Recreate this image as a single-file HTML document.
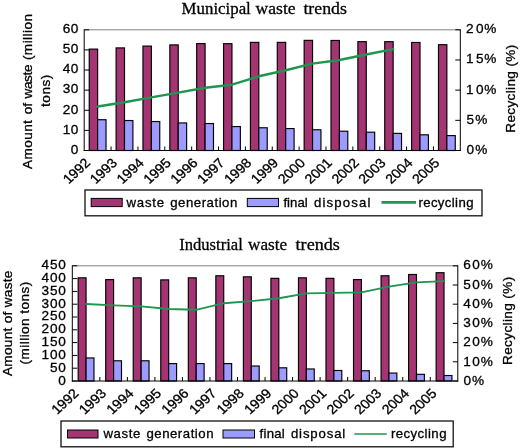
<!DOCTYPE html>
<html><head><meta charset="utf-8"><title>Waste trends</title>
<style>html,body{margin:0;padding:0;background:#fff;}svg{display:block}</style></head>
<body>
<svg width="520" height="448" viewBox="0 0 520 448">
<rect width="520" height="448" fill="#ffffff"/>
<line x1="84.2" y1="29.8" x2="460.3" y2="29.8" stroke="#808080" stroke-width="1"/>
<rect x="89.23" y="49.11" width="8.40" height="101.39" fill="#a53472" stroke="#000" stroke-width="1.15"/>
<rect x="97.63" y="119.72" width="8.40" height="30.78" fill="#9c9cff" stroke="#000" stroke-width="1.15"/>
<rect x="116.10" y="47.91" width="8.40" height="102.59" fill="#a53472" stroke="#000" stroke-width="1.15"/>
<rect x="124.50" y="120.53" width="8.40" height="29.97" fill="#9c9cff" stroke="#000" stroke-width="1.15"/>
<rect x="142.96" y="46.09" width="8.40" height="104.41" fill="#a53472" stroke="#000" stroke-width="1.15"/>
<rect x="151.36" y="121.53" width="8.40" height="28.97" fill="#9c9cff" stroke="#000" stroke-width="1.15"/>
<rect x="169.83" y="44.89" width="8.40" height="105.61" fill="#a53472" stroke="#000" stroke-width="1.15"/>
<rect x="178.23" y="122.94" width="8.40" height="27.56" fill="#9c9cff" stroke="#000" stroke-width="1.15"/>
<rect x="196.69" y="43.58" width="8.40" height="106.92" fill="#a53472" stroke="#000" stroke-width="1.15"/>
<rect x="205.09" y="123.54" width="8.40" height="26.96" fill="#9c9cff" stroke="#000" stroke-width="1.15"/>
<rect x="223.56" y="43.68" width="8.40" height="106.82" fill="#a53472" stroke="#000" stroke-width="1.15"/>
<rect x="231.95" y="126.56" width="8.40" height="23.94" fill="#9c9cff" stroke="#000" stroke-width="1.15"/>
<rect x="250.42" y="42.37" width="8.40" height="108.13" fill="#a53472" stroke="#000" stroke-width="1.15"/>
<rect x="258.82" y="127.77" width="8.40" height="22.73" fill="#9c9cff" stroke="#000" stroke-width="1.15"/>
<rect x="277.28" y="42.37" width="8.40" height="108.13" fill="#a53472" stroke="#000" stroke-width="1.15"/>
<rect x="285.68" y="128.57" width="8.40" height="21.93" fill="#9c9cff" stroke="#000" stroke-width="1.15"/>
<rect x="304.15" y="40.36" width="8.40" height="110.14" fill="#a53472" stroke="#000" stroke-width="1.15"/>
<rect x="312.55" y="129.78" width="8.40" height="20.72" fill="#9c9cff" stroke="#000" stroke-width="1.15"/>
<rect x="331.01" y="40.46" width="8.40" height="110.04" fill="#a53472" stroke="#000" stroke-width="1.15"/>
<rect x="339.41" y="131.19" width="8.40" height="19.31" fill="#9c9cff" stroke="#000" stroke-width="1.15"/>
<rect x="357.88" y="41.67" width="8.40" height="108.83" fill="#a53472" stroke="#000" stroke-width="1.15"/>
<rect x="366.28" y="132.19" width="8.40" height="18.31" fill="#9c9cff" stroke="#000" stroke-width="1.15"/>
<rect x="384.74" y="41.67" width="8.40" height="108.83" fill="#a53472" stroke="#000" stroke-width="1.15"/>
<rect x="393.14" y="133.40" width="8.40" height="17.10" fill="#9c9cff" stroke="#000" stroke-width="1.15"/>
<rect x="411.61" y="42.47" width="8.40" height="108.03" fill="#a53472" stroke="#000" stroke-width="1.15"/>
<rect x="420.00" y="134.81" width="8.40" height="15.69" fill="#9c9cff" stroke="#000" stroke-width="1.15"/>
<rect x="438.47" y="44.69" width="8.40" height="105.81" fill="#a53472" stroke="#000" stroke-width="1.15"/>
<rect x="446.87" y="135.61" width="8.40" height="14.89" fill="#9c9cff" stroke="#000" stroke-width="1.15"/>
<line x1="84.2" y1="29.3" x2="84.2" y2="151.0" stroke="#000" stroke-width="1"/>
<line x1="460.3" y1="29.3" x2="460.3" y2="151.0" stroke="#000" stroke-width="1"/>
<line x1="83.7" y1="150.5" x2="460.8" y2="150.5" stroke="#000" stroke-width="1"/>
<line x1="84.2" y1="150.50" x2="89.2" y2="150.50" stroke="#000" stroke-width="1"/>
<line x1="84.2" y1="130.38" x2="89.2" y2="130.38" stroke="#000" stroke-width="1"/>
<line x1="84.2" y1="110.27" x2="89.2" y2="110.27" stroke="#000" stroke-width="1"/>
<line x1="84.2" y1="90.15" x2="89.2" y2="90.15" stroke="#000" stroke-width="1"/>
<line x1="84.2" y1="70.03" x2="89.2" y2="70.03" stroke="#000" stroke-width="1"/>
<line x1="84.2" y1="49.92" x2="89.2" y2="49.92" stroke="#000" stroke-width="1"/>
<line x1="84.2" y1="29.80" x2="89.2" y2="29.80" stroke="#000" stroke-width="1"/>
<line x1="455.3" y1="150.50" x2="460.3" y2="150.50" stroke="#000" stroke-width="1"/>
<line x1="455.3" y1="120.33" x2="460.3" y2="120.33" stroke="#000" stroke-width="1"/>
<line x1="455.3" y1="90.15" x2="460.3" y2="90.15" stroke="#000" stroke-width="1"/>
<line x1="455.3" y1="59.97" x2="460.3" y2="59.97" stroke="#000" stroke-width="1"/>
<line x1="455.3" y1="29.80" x2="460.3" y2="29.80" stroke="#000" stroke-width="1"/>
<line x1="111.06" y1="146.5" x2="111.06" y2="150.5" stroke="#000" stroke-width="1"/>
<line x1="137.93" y1="146.5" x2="137.93" y2="150.5" stroke="#000" stroke-width="1"/>
<line x1="164.79" y1="146.5" x2="164.79" y2="150.5" stroke="#000" stroke-width="1"/>
<line x1="191.66" y1="146.5" x2="191.66" y2="150.5" stroke="#000" stroke-width="1"/>
<line x1="218.52" y1="146.5" x2="218.52" y2="150.5" stroke="#000" stroke-width="1"/>
<line x1="245.39" y1="146.5" x2="245.39" y2="150.5" stroke="#000" stroke-width="1"/>
<line x1="272.25" y1="146.5" x2="272.25" y2="150.5" stroke="#000" stroke-width="1"/>
<line x1="299.11" y1="146.5" x2="299.11" y2="150.5" stroke="#000" stroke-width="1"/>
<line x1="325.98" y1="146.5" x2="325.98" y2="150.5" stroke="#000" stroke-width="1"/>
<line x1="352.84" y1="146.5" x2="352.84" y2="150.5" stroke="#000" stroke-width="1"/>
<line x1="379.71" y1="146.5" x2="379.71" y2="150.5" stroke="#000" stroke-width="1"/>
<line x1="406.57" y1="146.5" x2="406.57" y2="150.5" stroke="#000" stroke-width="1"/>
<line x1="433.44" y1="146.5" x2="433.44" y2="150.5" stroke="#000" stroke-width="1"/>
<polyline points="97.63,106.44 124.50,102.22 151.36,97.39 178.23,92.56 205.09,87.74 231.95,84.72 258.82,76.27 285.68,70.23 312.55,63.60 339.41,59.97 366.28,54.54 393.14,49.11" fill="none" stroke="#1e9650" stroke-width="2.4" stroke-linejoin="round" stroke-linecap="round"/>
<text x="70.8" y="153.60" font-size="13.6" font-family="Liberation Sans, Arial, sans-serif" stroke="#000" stroke-width="0.3">0</text>
<text x="62.7 70.8" y="133.56" font-size="13.6" font-family="Liberation Sans, Arial, sans-serif" stroke="#000" stroke-width="0.3">10</text>
<text x="62.7 70.8" y="113.52" font-size="13.6" font-family="Liberation Sans, Arial, sans-serif" stroke="#000" stroke-width="0.3">20</text>
<text x="62.7 70.8" y="93.47" font-size="13.6" font-family="Liberation Sans, Arial, sans-serif" stroke="#000" stroke-width="0.3">30</text>
<text x="62.7 70.8" y="73.43" font-size="13.6" font-family="Liberation Sans, Arial, sans-serif" stroke="#000" stroke-width="0.3">40</text>
<text x="62.7 70.8" y="53.39" font-size="13.6" font-family="Liberation Sans, Arial, sans-serif" stroke="#000" stroke-width="0.3">50</text>
<text x="62.7 70.8" y="33.35" font-size="13.6" font-family="Liberation Sans, Arial, sans-serif" stroke="#000" stroke-width="0.3">60</text>
<text x="466.4 475.2" y="153.85" font-size="13.6" font-family="Liberation Sans, Arial, sans-serif" stroke="#000" stroke-width="0.3">0%</text>
<text x="466.4 475.2" y="123.72" font-size="13.6" font-family="Liberation Sans, Arial, sans-serif" stroke="#000" stroke-width="0.3">5%</text>
<text x="466.0 476.0 484.2" y="93.60" font-size="13.6" font-family="Liberation Sans, Arial, sans-serif" stroke="#000" stroke-width="0.3">10%</text>
<text x="466.0 476.0 484.2" y="63.48" font-size="13.6" font-family="Liberation Sans, Arial, sans-serif" stroke="#000" stroke-width="0.3">15%</text>
<text x="466.0 476.0 484.2" y="33.35" font-size="13.6" font-family="Liberation Sans, Arial, sans-serif" stroke="#000" stroke-width="0.3">20%</text>
<text transform="translate(91.13,163.70) scale(1.07,1) rotate(-45)" text-anchor="end" font-size="13.3" font-family="Liberation Sans, Arial, sans-serif" stroke="#000" stroke-width="0.3">1992</text>
<text transform="translate(118.00,163.70) scale(1.07,1) rotate(-45)" text-anchor="end" font-size="13.3" font-family="Liberation Sans, Arial, sans-serif" stroke="#000" stroke-width="0.3">1993</text>
<text transform="translate(144.86,163.70) scale(1.07,1) rotate(-45)" text-anchor="end" font-size="13.3" font-family="Liberation Sans, Arial, sans-serif" stroke="#000" stroke-width="0.3">1994</text>
<text transform="translate(171.73,163.70) scale(1.07,1) rotate(-45)" text-anchor="end" font-size="13.3" font-family="Liberation Sans, Arial, sans-serif" stroke="#000" stroke-width="0.3">1995</text>
<text transform="translate(198.59,163.70) scale(1.07,1) rotate(-45)" text-anchor="end" font-size="13.3" font-family="Liberation Sans, Arial, sans-serif" stroke="#000" stroke-width="0.3">1996</text>
<text transform="translate(225.45,163.70) scale(1.07,1) rotate(-45)" text-anchor="end" font-size="13.3" font-family="Liberation Sans, Arial, sans-serif" stroke="#000" stroke-width="0.3">1997</text>
<text transform="translate(252.32,163.70) scale(1.07,1) rotate(-45)" text-anchor="end" font-size="13.3" font-family="Liberation Sans, Arial, sans-serif" stroke="#000" stroke-width="0.3">1998</text>
<text transform="translate(279.18,163.70) scale(1.07,1) rotate(-45)" text-anchor="end" font-size="13.3" font-family="Liberation Sans, Arial, sans-serif" stroke="#000" stroke-width="0.3">1999</text>
<text transform="translate(306.05,163.70) scale(1.07,1) rotate(-45)" text-anchor="end" font-size="13.3" font-family="Liberation Sans, Arial, sans-serif" stroke="#000" stroke-width="0.3">2000</text>
<text transform="translate(332.91,163.70) scale(1.07,1) rotate(-45)" text-anchor="end" font-size="13.3" font-family="Liberation Sans, Arial, sans-serif" stroke="#000" stroke-width="0.3">2001</text>
<text transform="translate(359.78,163.70) scale(1.07,1) rotate(-45)" text-anchor="end" font-size="13.3" font-family="Liberation Sans, Arial, sans-serif" stroke="#000" stroke-width="0.3">2002</text>
<text transform="translate(386.64,163.70) scale(1.07,1) rotate(-45)" text-anchor="end" font-size="13.3" font-family="Liberation Sans, Arial, sans-serif" stroke="#000" stroke-width="0.3">2003</text>
<text transform="translate(413.50,163.70) scale(1.07,1) rotate(-45)" text-anchor="end" font-size="13.3" font-family="Liberation Sans, Arial, sans-serif" stroke="#000" stroke-width="0.3">2004</text>
<text transform="translate(440.37,163.70) scale(1.07,1) rotate(-45)" text-anchor="end" font-size="13.3" font-family="Liberation Sans, Arial, sans-serif" stroke="#000" stroke-width="0.3">2005</text>
<text x="181.6" y="13.8" font-size="17.5" textLength="69.20" lengthAdjust="spacingAndGlyphs" font-family="Liberation Serif, Times New Roman, serif" stroke="#000" stroke-width="0.3">Municipal</text>
<text x="255.6" y="13.8" font-size="17.5" textLength="40.00" lengthAdjust="spacingAndGlyphs" font-family="Liberation Serif, Times New Roman, serif" stroke="#000" stroke-width="0.3">waste</text>
<text x="303.4" y="13.8" font-size="17.5" textLength="43.50" lengthAdjust="spacingAndGlyphs" font-family="Liberation Serif, Times New Roman, serif" stroke="#000" stroke-width="0.3">trends</text>
<text transform="translate(32.4,168.9) rotate(-90)" font-size="13.6" textLength="48.8" lengthAdjust="spacing" font-family="Liberation Sans, Arial, sans-serif" stroke="#000" stroke-width="0.3">Amount</text>
<text transform="translate(32.4,114.2) rotate(-90)" font-size="13.6" textLength="11.3" lengthAdjust="spacing" font-family="Liberation Sans, Arial, sans-serif" stroke="#000" stroke-width="0.3">of</text>
<text transform="translate(32.4,98.6) rotate(-90)" font-size="13.6" textLength="34.2" lengthAdjust="spacing" font-family="Liberation Sans, Arial, sans-serif" stroke="#000" stroke-width="0.3">waste</text>
<text transform="translate(32.4,60.1) rotate(-90)" font-size="13.6" textLength="46.2" lengthAdjust="spacing" font-family="Liberation Sans, Arial, sans-serif" stroke="#000" stroke-width="0.3">(million</text>
<text transform="translate(49.9,106.9) rotate(-90)" font-size="13.6" textLength="32.2" lengthAdjust="spacing" font-family="Liberation Sans, Arial, sans-serif" stroke="#000" stroke-width="0.3">tons)</text>
<text transform="translate(514.8,88.75) rotate(-90)" text-anchor="middle" font-size="13.6" textLength="88" font-family="Liberation Sans, Arial, sans-serif" stroke="#000" stroke-width="0.3">Recycling (%)</text>
<rect x="85" y="190" width="397" height="25.8" fill="#fff" stroke="#111" stroke-width="1.3"/>
<rect x="91.2" y="198.4" width="31" height="8.2" fill="#a53472" stroke="#000" stroke-width="1"/>
<text x="126.4" y="206.6" font-size="13.2" textLength="37.80" lengthAdjust="spacing" font-family="Liberation Sans, Arial, sans-serif" stroke="#000" stroke-width="0.3">waste</text>
<text x="170.2" y="206.6" font-size="13.2" textLength="67.10" lengthAdjust="spacing" font-family="Liberation Sans, Arial, sans-serif" stroke="#000" stroke-width="0.3">generation</text>
<rect x="247.3" y="198.4" width="31.2" height="8.2" fill="#9c9cff" stroke="#000" stroke-width="1"/>
<text x="283.4" y="206.6" font-size="13.2" textLength="24.40" lengthAdjust="spacing" font-family="Liberation Sans, Arial, sans-serif" stroke="#000" stroke-width="0.3">final</text>
<text x="313.9" y="206.6" font-size="13.2" textLength="56.60" lengthAdjust="spacing" font-family="Liberation Sans, Arial, sans-serif" stroke="#000" stroke-width="0.3">disposal</text>
<line x1="381.5" y1="202.3" x2="416" y2="202.3" stroke="#1e9650" stroke-width="2.8"/>
<text x="418.4" y="206.6" font-size="13.2" textLength="55.10" lengthAdjust="spacing" font-family="Liberation Sans, Arial, sans-serif" stroke="#000" stroke-width="0.3">recycling</text>
<line x1="72.3" y1="265.8" x2="457.8" y2="265.8" stroke="#808080" stroke-width="1"/>
<rect x="78.17" y="277.83" width="7.90" height="103.17" fill="#a53472" stroke="#000" stroke-width="1.15"/>
<rect x="86.07" y="357.96" width="7.90" height="23.04" fill="#9c9cff" stroke="#000" stroke-width="1.15"/>
<rect x="105.70" y="279.62" width="7.90" height="101.38" fill="#a53472" stroke="#000" stroke-width="1.15"/>
<rect x="113.60" y="360.78" width="7.90" height="20.22" fill="#9c9cff" stroke="#000" stroke-width="1.15"/>
<rect x="133.24" y="277.83" width="7.90" height="103.17" fill="#a53472" stroke="#000" stroke-width="1.15"/>
<rect x="141.14" y="360.78" width="7.90" height="20.22" fill="#9c9cff" stroke="#000" stroke-width="1.15"/>
<rect x="160.77" y="279.88" width="7.90" height="101.12" fill="#a53472" stroke="#000" stroke-width="1.15"/>
<rect x="168.67" y="363.59" width="7.90" height="17.41" fill="#9c9cff" stroke="#000" stroke-width="1.15"/>
<rect x="188.31" y="277.83" width="7.90" height="103.17" fill="#a53472" stroke="#000" stroke-width="1.15"/>
<rect x="196.21" y="363.59" width="7.90" height="17.41" fill="#9c9cff" stroke="#000" stroke-width="1.15"/>
<rect x="215.84" y="275.78" width="7.90" height="105.22" fill="#a53472" stroke="#000" stroke-width="1.15"/>
<rect x="223.75" y="363.59" width="7.90" height="17.41" fill="#9c9cff" stroke="#000" stroke-width="1.15"/>
<rect x="243.38" y="276.81" width="7.90" height="104.19" fill="#a53472" stroke="#000" stroke-width="1.15"/>
<rect x="251.28" y="366.02" width="7.90" height="14.98" fill="#9c9cff" stroke="#000" stroke-width="1.15"/>
<rect x="270.92" y="278.34" width="7.90" height="102.66" fill="#a53472" stroke="#000" stroke-width="1.15"/>
<rect x="278.82" y="367.82" width="7.90" height="13.18" fill="#9c9cff" stroke="#000" stroke-width="1.15"/>
<rect x="298.45" y="277.83" width="7.90" height="103.17" fill="#a53472" stroke="#000" stroke-width="1.15"/>
<rect x="306.35" y="368.97" width="7.90" height="12.03" fill="#9c9cff" stroke="#000" stroke-width="1.15"/>
<rect x="325.99" y="278.34" width="7.90" height="102.66" fill="#a53472" stroke="#000" stroke-width="1.15"/>
<rect x="333.89" y="370.50" width="7.90" height="10.50" fill="#9c9cff" stroke="#000" stroke-width="1.15"/>
<rect x="353.52" y="279.62" width="7.90" height="101.38" fill="#a53472" stroke="#000" stroke-width="1.15"/>
<rect x="361.43" y="370.76" width="7.90" height="10.24" fill="#9c9cff" stroke="#000" stroke-width="1.15"/>
<rect x="381.06" y="275.78" width="7.90" height="105.22" fill="#a53472" stroke="#000" stroke-width="1.15"/>
<rect x="388.96" y="373.06" width="7.90" height="7.94" fill="#9c9cff" stroke="#000" stroke-width="1.15"/>
<rect x="408.59" y="274.50" width="7.90" height="106.50" fill="#a53472" stroke="#000" stroke-width="1.15"/>
<rect x="416.50" y="374.34" width="7.90" height="6.66" fill="#9c9cff" stroke="#000" stroke-width="1.15"/>
<rect x="436.13" y="272.71" width="7.90" height="108.29" fill="#a53472" stroke="#000" stroke-width="1.15"/>
<rect x="444.03" y="375.50" width="7.90" height="5.50" fill="#9c9cff" stroke="#000" stroke-width="1.15"/>
<line x1="72.3" y1="265.3" x2="72.3" y2="381.5" stroke="#000" stroke-width="1"/>
<line x1="457.8" y1="265.3" x2="457.8" y2="381.5" stroke="#000" stroke-width="1"/>
<line x1="71.8" y1="381.0" x2="458.3" y2="381.0" stroke="#000" stroke-width="1"/>
<line x1="72.3" y1="381.00" x2="77.3" y2="381.00" stroke="#000" stroke-width="1"/>
<line x1="72.3" y1="368.20" x2="77.3" y2="368.20" stroke="#000" stroke-width="1"/>
<line x1="72.3" y1="355.40" x2="77.3" y2="355.40" stroke="#000" stroke-width="1"/>
<line x1="72.3" y1="342.60" x2="77.3" y2="342.60" stroke="#000" stroke-width="1"/>
<line x1="72.3" y1="329.80" x2="77.3" y2="329.80" stroke="#000" stroke-width="1"/>
<line x1="72.3" y1="317.00" x2="77.3" y2="317.00" stroke="#000" stroke-width="1"/>
<line x1="72.3" y1="304.20" x2="77.3" y2="304.20" stroke="#000" stroke-width="1"/>
<line x1="72.3" y1="291.40" x2="77.3" y2="291.40" stroke="#000" stroke-width="1"/>
<line x1="72.3" y1="278.60" x2="77.3" y2="278.60" stroke="#000" stroke-width="1"/>
<line x1="72.3" y1="265.80" x2="77.3" y2="265.80" stroke="#000" stroke-width="1"/>
<line x1="452.8" y1="381.00" x2="457.8" y2="381.00" stroke="#000" stroke-width="1"/>
<line x1="452.8" y1="361.80" x2="457.8" y2="361.80" stroke="#000" stroke-width="1"/>
<line x1="452.8" y1="342.60" x2="457.8" y2="342.60" stroke="#000" stroke-width="1"/>
<line x1="452.8" y1="323.40" x2="457.8" y2="323.40" stroke="#000" stroke-width="1"/>
<line x1="452.8" y1="304.20" x2="457.8" y2="304.20" stroke="#000" stroke-width="1"/>
<line x1="452.8" y1="285.00" x2="457.8" y2="285.00" stroke="#000" stroke-width="1"/>
<line x1="452.8" y1="265.80" x2="457.8" y2="265.80" stroke="#000" stroke-width="1"/>
<line x1="99.84" y1="377.0" x2="99.84" y2="381.0" stroke="#000" stroke-width="1"/>
<line x1="127.37" y1="377.0" x2="127.37" y2="381.0" stroke="#000" stroke-width="1"/>
<line x1="154.91" y1="377.0" x2="154.91" y2="381.0" stroke="#000" stroke-width="1"/>
<line x1="182.44" y1="377.0" x2="182.44" y2="381.0" stroke="#000" stroke-width="1"/>
<line x1="209.98" y1="377.0" x2="209.98" y2="381.0" stroke="#000" stroke-width="1"/>
<line x1="237.51" y1="377.0" x2="237.51" y2="381.0" stroke="#000" stroke-width="1"/>
<line x1="265.05" y1="377.0" x2="265.05" y2="381.0" stroke="#000" stroke-width="1"/>
<line x1="292.59" y1="377.0" x2="292.59" y2="381.0" stroke="#000" stroke-width="1"/>
<line x1="320.12" y1="377.0" x2="320.12" y2="381.0" stroke="#000" stroke-width="1"/>
<line x1="347.66" y1="377.0" x2="347.66" y2="381.0" stroke="#000" stroke-width="1"/>
<line x1="375.19" y1="377.0" x2="375.19" y2="381.0" stroke="#000" stroke-width="1"/>
<line x1="402.73" y1="377.0" x2="402.73" y2="381.0" stroke="#000" stroke-width="1"/>
<line x1="430.26" y1="377.0" x2="430.26" y2="381.0" stroke="#000" stroke-width="1"/>
<polyline points="86.07,304.01 113.60,305.35 141.14,306.31 168.68,309.00 196.21,309.77 223.75,303.24 251.28,301.13 278.82,298.25 306.35,293.45 333.89,292.87 361.43,292.30 388.96,286.54 416.50,282.31 444.03,281.16" fill="none" stroke="#1e9650" stroke-width="1.8" stroke-linejoin="round" stroke-linecap="round"/>
<text x="58.3" y="384.85" font-size="13.6" font-family="Liberation Sans, Arial, sans-serif" stroke="#000" stroke-width="0.3">0</text>
<text x="50.1 58.3" y="371.96" font-size="13.6" font-family="Liberation Sans, Arial, sans-serif" stroke="#000" stroke-width="0.3">50</text>
<text x="41.4 50.1 58.3" y="359.07" font-size="13.6" font-family="Liberation Sans, Arial, sans-serif" stroke="#000" stroke-width="0.3">100</text>
<text x="41.4 50.1 58.3" y="346.18" font-size="13.6" font-family="Liberation Sans, Arial, sans-serif" stroke="#000" stroke-width="0.3">150</text>
<text x="41.4 50.1 58.3" y="333.29" font-size="13.6" font-family="Liberation Sans, Arial, sans-serif" stroke="#000" stroke-width="0.3">200</text>
<text x="41.4 50.1 58.3" y="320.41" font-size="13.6" font-family="Liberation Sans, Arial, sans-serif" stroke="#000" stroke-width="0.3">250</text>
<text x="41.4 50.1 58.3" y="307.52" font-size="13.6" font-family="Liberation Sans, Arial, sans-serif" stroke="#000" stroke-width="0.3">300</text>
<text x="41.4 50.1 58.3" y="294.63" font-size="13.6" font-family="Liberation Sans, Arial, sans-serif" stroke="#000" stroke-width="0.3">350</text>
<text x="41.4 50.1 58.3" y="281.74" font-size="13.6" font-family="Liberation Sans, Arial, sans-serif" stroke="#000" stroke-width="0.3">400</text>
<text x="41.4 50.1 58.3" y="268.85" font-size="13.6" font-family="Liberation Sans, Arial, sans-serif" stroke="#000" stroke-width="0.3">450</text>
<text x="463.5 472.1" y="384.85" font-size="13.6" font-family="Liberation Sans, Arial, sans-serif" stroke="#000" stroke-width="0.3">0%</text>
<text x="463.3 472.3 480.8" y="365.58" font-size="13.6" font-family="Liberation Sans, Arial, sans-serif" stroke="#000" stroke-width="0.3">10%</text>
<text x="463.3 472.3 480.8" y="346.32" font-size="13.6" font-family="Liberation Sans, Arial, sans-serif" stroke="#000" stroke-width="0.3">20%</text>
<text x="463.3 472.3 480.8" y="327.05" font-size="13.6" font-family="Liberation Sans, Arial, sans-serif" stroke="#000" stroke-width="0.3">30%</text>
<text x="463.3 472.3 480.8" y="307.78" font-size="13.6" font-family="Liberation Sans, Arial, sans-serif" stroke="#000" stroke-width="0.3">40%</text>
<text x="463.3 472.3 480.8" y="288.52" font-size="13.6" font-family="Liberation Sans, Arial, sans-serif" stroke="#000" stroke-width="0.3">50%</text>
<text x="463.3 472.3 480.8" y="269.25" font-size="13.6" font-family="Liberation Sans, Arial, sans-serif" stroke="#000" stroke-width="0.3">60%</text>
<text transform="translate(79.57,394.20) scale(1.07,1) rotate(-45)" text-anchor="end" font-size="13.3" font-family="Liberation Sans, Arial, sans-serif" stroke="#000" stroke-width="0.3">1992</text>
<text transform="translate(107.10,394.20) scale(1.07,1) rotate(-45)" text-anchor="end" font-size="13.3" font-family="Liberation Sans, Arial, sans-serif" stroke="#000" stroke-width="0.3">1993</text>
<text transform="translate(134.64,394.20) scale(1.07,1) rotate(-45)" text-anchor="end" font-size="13.3" font-family="Liberation Sans, Arial, sans-serif" stroke="#000" stroke-width="0.3">1994</text>
<text transform="translate(162.18,394.20) scale(1.07,1) rotate(-45)" text-anchor="end" font-size="13.3" font-family="Liberation Sans, Arial, sans-serif" stroke="#000" stroke-width="0.3">1995</text>
<text transform="translate(189.71,394.20) scale(1.07,1) rotate(-45)" text-anchor="end" font-size="13.3" font-family="Liberation Sans, Arial, sans-serif" stroke="#000" stroke-width="0.3">1996</text>
<text transform="translate(217.25,394.20) scale(1.07,1) rotate(-45)" text-anchor="end" font-size="13.3" font-family="Liberation Sans, Arial, sans-serif" stroke="#000" stroke-width="0.3">1997</text>
<text transform="translate(244.78,394.20) scale(1.07,1) rotate(-45)" text-anchor="end" font-size="13.3" font-family="Liberation Sans, Arial, sans-serif" stroke="#000" stroke-width="0.3">1998</text>
<text transform="translate(272.32,394.20) scale(1.07,1) rotate(-45)" text-anchor="end" font-size="13.3" font-family="Liberation Sans, Arial, sans-serif" stroke="#000" stroke-width="0.3">1999</text>
<text transform="translate(299.85,394.20) scale(1.07,1) rotate(-45)" text-anchor="end" font-size="13.3" font-family="Liberation Sans, Arial, sans-serif" stroke="#000" stroke-width="0.3">2000</text>
<text transform="translate(327.39,394.20) scale(1.07,1) rotate(-45)" text-anchor="end" font-size="13.3" font-family="Liberation Sans, Arial, sans-serif" stroke="#000" stroke-width="0.3">2001</text>
<text transform="translate(354.93,394.20) scale(1.07,1) rotate(-45)" text-anchor="end" font-size="13.3" font-family="Liberation Sans, Arial, sans-serif" stroke="#000" stroke-width="0.3">2002</text>
<text transform="translate(382.46,394.20) scale(1.07,1) rotate(-45)" text-anchor="end" font-size="13.3" font-family="Liberation Sans, Arial, sans-serif" stroke="#000" stroke-width="0.3">2003</text>
<text transform="translate(410.00,394.20) scale(1.07,1) rotate(-45)" text-anchor="end" font-size="13.3" font-family="Liberation Sans, Arial, sans-serif" stroke="#000" stroke-width="0.3">2004</text>
<text transform="translate(437.53,394.20) scale(1.07,1) rotate(-45)" text-anchor="end" font-size="13.3" font-family="Liberation Sans, Arial, sans-serif" stroke="#000" stroke-width="0.3">2005</text>
<text x="179.2" y="249.7" font-size="17.5" textLength="63.60" lengthAdjust="spacingAndGlyphs" font-family="Liberation Serif, Times New Roman, serif" stroke="#000" stroke-width="0.3">Industrial</text>
<text x="248.1" y="249.7" font-size="17.5" textLength="39.10" lengthAdjust="spacingAndGlyphs" font-family="Liberation Serif, Times New Roman, serif" stroke="#000" stroke-width="0.3">waste</text>
<text x="295.6" y="249.7" font-size="17.5" textLength="44.20" lengthAdjust="spacingAndGlyphs" font-family="Liberation Serif, Times New Roman, serif" stroke="#000" stroke-width="0.3">trends</text>
<text transform="translate(12.2,323.3) rotate(-90)" text-anchor="middle" font-size="13.6" textLength="105.4" font-family="Liberation Sans, Arial, sans-serif" stroke="#000" stroke-width="0.3">Amount of waste</text>
<text transform="translate(29.2,323.1) rotate(-90)" text-anchor="middle" font-size="13.6" textLength="82.7" font-family="Liberation Sans, Arial, sans-serif" stroke="#000" stroke-width="0.3">(million tons)</text>
<text transform="translate(512,320.9) rotate(-90)" text-anchor="middle" font-size="13.6" textLength="88.2" font-family="Liberation Sans, Arial, sans-serif" stroke="#000" stroke-width="0.3">Recycling (%)</text>
<rect x="61" y="421" width="392.2" height="25.8" fill="#fff" stroke="#111" stroke-width="1.3"/>
<rect x="67.5" y="430" width="30.5" height="8" fill="#a53472" stroke="#000" stroke-width="1"/>
<text x="103.4" y="438" font-size="13.2" textLength="36.90" lengthAdjust="spacing" font-family="Liberation Sans, Arial, sans-serif" stroke="#000" stroke-width="0.3">waste</text>
<text x="146.4" y="438" font-size="13.2" textLength="67.10" lengthAdjust="spacing" font-family="Liberation Sans, Arial, sans-serif" stroke="#000" stroke-width="0.3">generation</text>
<rect x="223" y="430" width="31.5" height="8" fill="#9c9cff" stroke="#000" stroke-width="1"/>
<text x="259.6" y="438" font-size="13.2" textLength="25.20" lengthAdjust="spacing" font-family="Liberation Sans, Arial, sans-serif" stroke="#000" stroke-width="0.3">final</text>
<text x="290.9" y="438" font-size="13.2" textLength="54.40" lengthAdjust="spacing" font-family="Liberation Sans, Arial, sans-serif" stroke="#000" stroke-width="0.3">disposal</text>
<line x1="354.3" y1="434" x2="386.8" y2="434" stroke="#1e9650" stroke-width="1.7"/>
<text x="390.9" y="438" font-size="13.2" textLength="55.60" lengthAdjust="spacing" font-family="Liberation Sans, Arial, sans-serif" stroke="#000" stroke-width="0.3">recycling</text>
</svg>
</body></html>
